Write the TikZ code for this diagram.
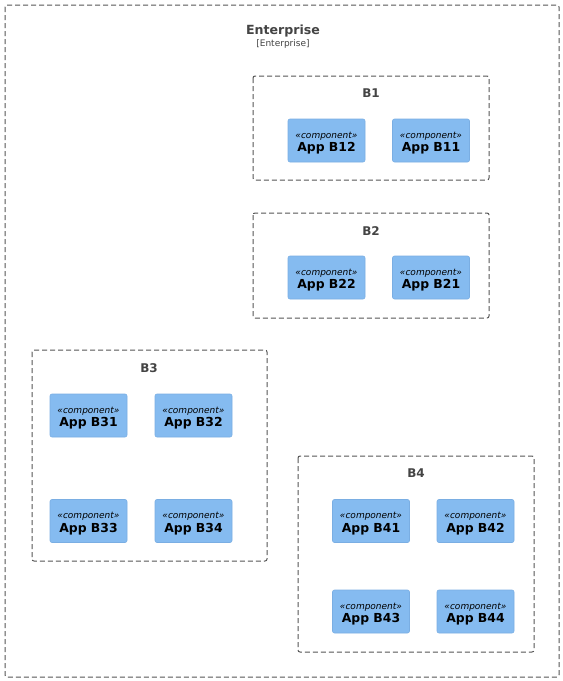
\documentclass[tikz,border=0pt]{standalone}
\usepackage{fontspec}
\setmainfont{DejaVu Sans}
\definecolor{compfill}{HTML}{85BBF0}
\definecolor{compline}{HTML}{7AAEE3}
\definecolor{framegray}{HTML}{555555}
\definecolor{titlegray}{HTML}{444444}
\tikzset{
  frame/.style={draw=framegray, line width=1pt, dash pattern=on 5pt off 3pt, rounded corners=2pt},
  comp/.style={draw=compline, fill=compfill, rounded corners=2pt, line width=0.6pt,
    minimum width=77pt, minimum height=43pt, inner sep=0pt, align=center},
  frametitle/.style={text=titlegray, font=\bfseries\fontsize{12}{14}\selectfont}
}
\newcommand{\appbox}[1]{\rule{0pt}{12pt}{\fontsize{9}{10}\selectfont\itshape «component»}\\[1.5pt]{\fontsize{12.4}{13}\selectfont\bfseries #1}}
\begin{document}
\begin{tikzpicture}[x=1pt, y=-1pt]
  \useasboundingbox [fill=white] (0,0) rectangle (563,681);
  %\draw[help lines, step=50] (0,0) grid (563,681);

  % enterprise boundary
  \draw [frame] (5,5) rectangle (559,677);
  \node [frametitle, font=\bfseries\fontsize{12.6}{14}\selectfont] (ent) at (283,31) {Enterprise};
  \node [text=titlegray, font=\fontsize{9}{10}\selectfont] (entsub) at (283,44.5) {[Enterprise]};

  % B1
  \draw [frame] (253,76) rectangle (489,180);
  \node [frametitle] (b1) at (371,93) {B1};
  \node [comp] (b12) at (326.5,140.5) {\appbox{App B12}};
  \node [comp] (b11) at (431,140.5) {\appbox{App B11}};

  % B2
  \draw [frame] (253,213) rectangle (489,318);
  \node [frametitle] (b2) at (371,231) {B2};
  \node [comp] (b22) at (326.5,277.5) {\appbox{App B22}};
  \node [comp] (b21) at (431,277.5) {\appbox{App B21}};

  % B3
  \draw [frame] (32,350) rectangle (267,561);
  \node [frametitle] (b3) at (149,368) {B3};
  \node [comp] (b31) at (88.5,415.5) {\appbox{App B31}};
  \node [comp] (b32) at (193.5,415.5) {\appbox{App B32}};
  \node [comp] (b33) at (88.5,521) {\appbox{App B33}};
  \node [comp] (b34) at (193.5,521) {\appbox{App B34}};

  % B4
  \draw [frame] (298,456) rectangle (534,652);
  \node [frametitle] (b4) at (416,473) {B4};
  \node [comp] (b41) at (371,521) {\appbox{App B41}};
  \node [comp] (b42) at (475.5,521) {\appbox{App B42}};
  \node [comp] (b43) at (371,611.5) {\appbox{App B43}};
  \node [comp] (b44) at (475.5,611.5) {\appbox{App B44}};
\end{tikzpicture}
\end{document}
